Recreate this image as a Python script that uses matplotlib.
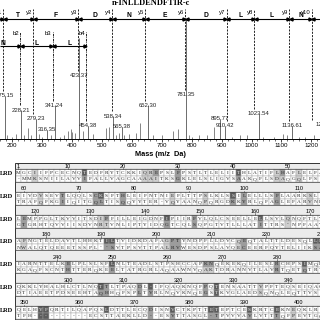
import numpy as np
import matplotlib
matplotlib.use("Agg")
import matplotlib.pyplot as plt
from matplotlib.patches import Rectangle

# ---------------------------------------------------------------
# MS/MS spectrum of n-INLLDENDFTIR-c
# ---------------------------------------------------------------
peak_mz = [175.15, 228.21, 279.23, 316.35, 341.24, 423.37, 454.38, 538.34,
           565.38, 652.30, 781.35, 895.77, 910.42, 1023.54, 1136.61, 1250.66]
peak_int = [36, 24, 17, 7.5, 28, 84, 11, 19, 10, 28, 100, 17, 11, 21, 11, 12]
label_int = [36, 24, 17, 7.5, 28, 53, 11, 19, 10, 28, 37, 17, 11, 21, 11, 12]

noise_mz = [184, 198, 213, 240, 253, 262, 290, 300, 330, 360, 372, 387, 395,
            400, 410, 437, 470, 512, 523, 547, 557, 575, 590, 615, 627, 670,
            700, 738, 754, 790, 800, 825, 852, 875, 935, 960, 985, 1040, 1075,
            1105, 1120, 1160, 1180, 1210]
noise_int = [3, 2, 4, 3, 9, 3, 4, 2, 3, 2, 3, 7, 8, 6, 5, 7, 4, 9, 10, 3, 5, 3,
             4, 5, 13, 3, 3, 7, 8, 3, 2, 3, 3, 10, 2, 3, 3, 2, 2, 4, 3, 2, 2, 3]

# fragment ladders
y_ion_mz = [170, 270, 420, 535, 645, 778, 918, 1009, 1126, 1202]
y_ion_target = [175.15, 279.23, 423.37, 538.34, 652.30, 781.35, 910.42,
                1023.54, 1136.61, 1250.66]
y_letters = ['T', 'F', 'D', 'N', 'E', 'D', 'L', 'L', 'N']

b_ion_mz = [114, 226, 336, 447]
b_ion_target = [228.21, 341.24, 454.38]
b_letters = ['N', 'L', 'L']

title = "n-INLLDENDFTIR-c"

# ---------------------------------------------------------------
# sequence alignment (58 columns per block)
# ---------------------------------------------------------------
seq_label = "LRD"
block_len = 58
seq_top = [
    "MGCIIFPCEC NQTEDFRYTC KKIQREPSLF PSTLTLELII THLATIFLHA FLELFAQS",
    "EIVDVSEVTL QQLSCKSFTH LEIFNTNIEF LTTPSLKLSS ILELLLSFLA ARKSLEDL",
    "LEMPPGLTKV VITSDIFFIL LEIGDNFIPI IRFVLQLCSE ELLELLSVLQ NQFTLVAY",
    "AFNGTELDAV TLHHKTILTV IDKDAFAGPT YNDPFLLDVC QEQTALTTLD ESQLLNLS",
    "IARNTTELKE LPLSLSFLNL TEADLSTPSH CCAPKNQEKE KQILESLRCH PSIMQDQL",
    "QKKLYHALHL CTLNQTTLTP AQDL-IFQAQ KNQFPQTENS AATTVPFTEQ SEIQAQLF",
    "QELHYFQRTI LQAPQSLDTT LECQDISNVC TKPTTETEPT CESKRTCEKN EQKLR--E",
]
seq_bot = [
    "-MMKSNIILA VVIFALLVAG CAAAAITKSG KLELSLIGVS AAKQFLSDAQ GQLFSPRV",
    "TRAFQFKGII QITGQLTISQ QYYTER-VQY AANQPQRGDK KYRLQFAGLE FARVNDEA",
    "GTGRHTQVVI ISDVNRTVNL IPTYIDQGTC QLSQPGTVTL LLATITTRS- NPFAAVSQ",
    "NWALQTQEEE TSSPL--SVT PSVTTPALRV WESDPSLAVQ ECEERFQYTE LIIKSATQ",
    "KGAQFSCNTH TTERQKEELT ATRGRLAQAA WNVQAKTDRA NNVTLAVRTQ ETQTRTRQ",
    "DTIAEETPDS EEHTAQHHQF SPLTVRLNQV KNQEGSTKVG LAEDSQNQLE QTTVSF--",
    "TFH------- ---ECSTTAE KLLD--ESVT TASGL-TPVV VAVLVTTTQF PEVTGQ--",
]
# shading level per cell: 0 white, 1 light, 2 mid, 3 dark
shade_top = [
    "0001000000 0030000000 0001120002 0000000000 3000000120 0100000000",
    "0000100020 0000230002 0000000010 0000100003 0200000200 0001000000",
    "0200000000 0000012000 0000000300 0020000000 0000300001 0000000200",
    "0100000000 0000003300 0000000122 0000000000 1200000000 0000330000",
    "0000000002 0000000300 0000000000 0000220000 0000000200 0030000000",
    "0000000000 0000032000 0020300000 0000203000 0000100000 0000000000",
    "0000330000 0000003000 0000200030 0000033000 0030000300 1000000000",
]
shade_bot = [
    "0001000000 0020000000 0001110002 0000000000 2000000110 0100000000",
    "0000100020 0000220002 0000000010 0000100002 0200000200 0001000000",
    "0200000000 0000011000 0000000200 0020000000 0000200001 0000000200",
    "0100000000 0000002200 0000000122 0000000000 1200000000 0000220000",
    "0000000002 0000000200 0000000000 0000110000 0000000200 0020000000",
    "0000000000 0000022000 0020200000 0000203000 0000100000 0000000000",
    "0000330000 0000000000 0000200020 0000022000 0020000200 1000000000",
]

shade_colors = ['#ffffff', '#cfcfcf', '#9c9c9c', '#5c5c5c']

# ---------------------------------------------------------------
fig = plt.figure(figsize=(3.2, 3.2), dpi=100)

# ---- spectrum panel
ax1 = fig.add_axes([0, 1 - 139 / 320, 1, 139 / 320])
ax1.set_xlim(159, 1229)
ax1.set_ylim(0, 115.8)
for s in ['top', 'left', 'right']:
    ax1.spines[s].set_visible(False)
ax1.spines['bottom'].set_linewidth(0.7)
ax1.set_yticks([])
ax1.set_xticks(np.arange(200, 1201, 100))
ax1.set_xticks(np.arange(160, 1230, 20), minor=True)
ax1.tick_params(axis='x', which='major', length=2.2, width=0.5, pad=1,
                labelsize=4.5)
ax1.tick_params(axis='x', which='minor', length=1.2, width=0.4)
for lab in ax1.get_xticklabels():
    lab.set_fontfamily('Liberation Sans')
ax1.set_xlabel("Mass (m/z  Da)", fontsize=5.3, fontweight='bold',
               fontfamily='Liberation Sans', labelpad=1.5)

ax1.vlines(noise_mz, 0, noise_int, color='#555555', lw=0.5)
ax1.vlines(peak_mz, 0, peak_int, color='#555555', lw=0.6)
for mz, h in zip(peak_mz, label_int):
    ax1.text(mz, h, f"{mz:.2f}", ha='center', va='center', fontsize=4.3,
             fontfamily='Liberation Sans', color='#222222')

# y-ion ladder
top_y = 100
ax1.axhline(top_y, color='black', lw=0.8)
lab_of = dict(zip(peak_mz, label_int))
for i, (mz, tgt) in enumerate(zip(y_ion_mz, y_ion_target)):
    ax1.vlines(mz, lab_of[tgt] + 4, top_y + 8, color='black', lw=0.6,
               linestyles=(0, (2.5, 1.5)))
    ax1.text(mz - 4, top_y + 5.5, f"y{i + 1}", ha='right', va='center',
             fontsize=4.3, fontfamily='Liberation Sans')
ax1.plot(np.array(y_ion_mz) - 5, [top_y] * len(y_ion_mz), ls='none',
         marker='>', ms=2.2, color='black')
ax1.plot(np.array(y_ion_mz) + 5, [top_y] * len(y_ion_mz), ls='none',
         marker='<', ms=2.2, color='black')
for a, b, let in zip(y_ion_mz[:-1], y_ion_mz[1:], y_letters):
    ax1.text((a + b) / 2, top_y + 2.5, let, ha='center', va='center',
             fontsize=4.8, fontweight='bold', fontfamily='Liberation Sans')

# b-ion ladder
b_y = 77.5
ax1.hlines(b_y, 159, b_ion_mz[-1], color='black', lw=0.8)
lab_of_b = dict(zip(peak_mz, label_int))
for i, (mz, tgt) in enumerate(zip(b_ion_mz[1:], b_ion_target)):
    ax1.vlines(mz, lab_of_b[tgt] + 4, b_y + 12, color='black', lw=0.6,
               linestyles=(0, (3, 1, 1, 1)))
    ax1.text(mz - 4, b_y + 10, f"b{i + 2}", ha='right', va='center',
             fontsize=4.3, fontfamily='Liberation Sans')
ax1.plot(np.array(b_ion_mz[1:]) - 5, [b_y] * 3, ls='none', marker='>',
         ms=2.2, color='black')
ax1.plot(np.array(b_ion_mz[1:-1]) + 5, [b_y] * 2, ls='none', marker='<',
         ms=2.2, color='black')
for a, b, let in zip(b_ion_mz[:-1], b_ion_mz[1:], b_letters):
    ax1.text((a + b) / 2, b_y + 2, let, ha='center', va='center',
             fontsize=4.8, fontweight='bold', fontfamily='Liberation Sans')

ax1.text(0.47, 0.975, title, transform=ax1.transAxes, ha='center',
         va='center', fontsize=6, fontweight='bold',
         fontfamily='Liberation Serif')

# ---- alignment panel
ax2 = fig.add_axes([0, 0, 1, 0.5])
ax2.set_xlim(-2.36, 55.82)
ax2.set_ylim(160, 0)
ax2.axis('off')

pitch = 22.8
cell_h = 6.3
ax2.add_patch(Rectangle((0.36, 3), 70, 170, facecolor='#ececec',
                        edgecolor='#333333', lw=0.7))
for b in range(len(seq_top)):
    y0 = b * pitch
    start = 1 + b * block_len
    # ruler
    for n in range(start, start + block_len):
        if n % 10 == 0 or n == 1:
            c = n - start + 1
            ax2.text(c, y0 + 6, str(n), ha='center', va='center',
                     fontsize=4, fontfamily='Liberation Sans')
            ax2.plot([c, c], [y0 + 7.8, y0 + 9.3], color='#333333', lw=0.4)
    rows = [(seq_top[b], shade_top[b], y0 + 12.6),
            (seq_bot[b], shade_bot[b], y0 + 18.9)]
    for seq, shade, yc in rows:
        seq = "".join(seq.split())
        shade = "".join(shade.split())
        for c, (ch, sh) in enumerate(zip(seq, shade), start=1):
            lvl = int(sh)
            ax2.add_patch(Rectangle((c - 0.5, yc - cell_h / 2), 1, cell_h,
                                    facecolor=shade_colors[lvl],
                                    edgecolor='#a0a0a0', lw=0.3))
            ax2.text(c, yc + 0.3, ch, ha='center', va='center', fontsize=3.8,
                     fontfamily='Liberation Serif',
                     color='#f0f0f0' if lvl == 3 else '#222222')
    ax2.plot([0.36, 70], [y0 + 9.45, y0 + 9.45], color='#444444', lw=0.5)
    ax2.plot([0.36, 70], [y0 + 22.05, y0 + 22.05], color='#444444', lw=0.5)
    ax2.text(-1.27, y0 + 13.5, seq_label, ha='center', va='center',
             fontsize=4.5, fontweight='bold', fontfamily='Liberation Serif')

fig.savefig("out.png", dpi=100)
